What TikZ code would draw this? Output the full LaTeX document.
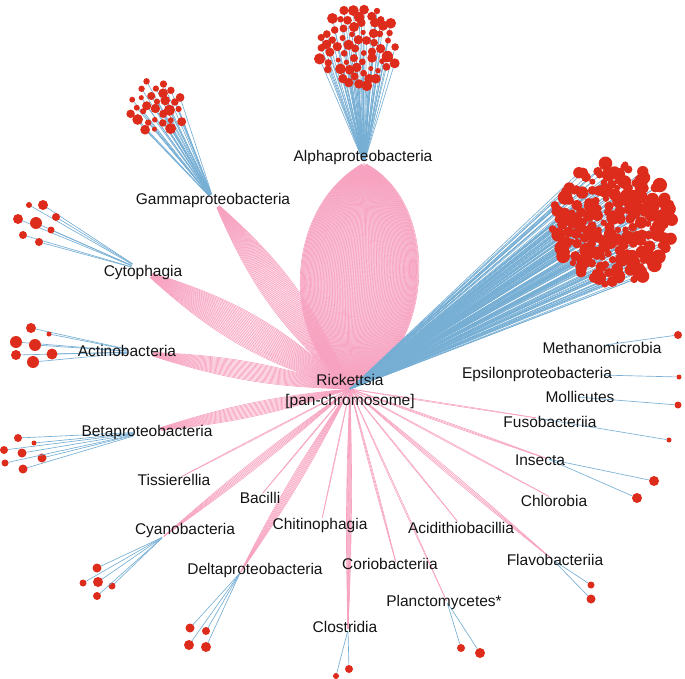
\documentclass[tikz,border=0pt]{standalone}
\usepackage{fontspec}
\setmainfont{Liberation Sans}
\definecolor{pinkc}{RGB}{247,162,192}
\definecolor{bluec}{RGB}{118,174,212}
\definecolor{dotred}{RGB}{222,44,28}

\begin{document}
\begin{tikzpicture}[x=1pt, y=-1pt,
    pinkedge/.style={draw=pinkc, line width=0.6pt},
    blueedge/.style={draw=bluec, line width=0.65pt},
    reddot/.style={circle, fill=dotred, inner sep=0pt, minimum size=#1},
    hub/.style={circle, inner sep=0pt, minimum size=#1},
    lab/.style={font=\fontsize{15.5}{20}\selectfont, inner sep=0pt, text=black!92}]

    \useasboundingbox (0,0) rectangle (685,679);

    % Centre and class hubs
    \coordinate (rick) at (350,389);
    \node[hub=6pt] (alpha) at (364,163) {};
    \node[hub=14pt] (gamma) at (214,201) {};
    \node[hub=22pt] (cyto) at (142,270) {};
    \node[hub=26pt] (actino) at (140,352) {};
    \node[hub=28pt] (beta) at (147,432) {};
    \node[hub=16pt] (tissi) at (175,480) {};
    \node[hub=2pt] (bacilli) at (262,494) {};
    \node[hub=2pt] (cyano) at (163,537) {};
    \node[hub=2pt] (chitino) at (322,519) {};
    \node[hub=2pt] (delta) at (240,573) {};
    \node[hub=2pt] (corio) at (396,563) {};
    \node[hub=2pt] (clost) at (348,630) {};
    \node[hub=2pt] (plancto) at (447,602) {};
    \node[hub=2pt] (acidi) at (458,522) {};
    \node[hub=2pt] (flavo) at (553,560) {};
    \node[hub=2pt] (chloro) at (550,497) {};
    \node[hub=2pt] (insecta) at (548,459) {};
    \node[hub=2pt] (fuso) at (537,418) {};
    \node[hub=2pt] (molli) at (577,397) {};
    \node[hub=2pt] (epsilon) at (600,375) {};
    \node[hub=2pt] (methano) at (605,345) {};

    % Pink bundles from the pan-chromosome
    \fill[pinkc!60] (rick) to[bend left=58] (alpha.center) to[bend left=66] (rick);
    \foreach \b in {-66,-64.5,...,58} \draw[pinkedge] (rick) to[bend left=\b] (alpha);
    \foreach \b in {-13,-12,...,13} \draw[pinkedge] (rick) to[bend left=\b] (gamma);
    \foreach \b in {-13,-12,...,13} \draw[pinkedge] (rick) to[bend left=\b] (cyto);
    \foreach \b in {-8,-7,...,8} \draw[pinkedge] (rick) to[bend left=\b] (actino);
    \foreach \b in {-6,-5,...,6} \draw[pinkedge] (rick) to[bend left=\b] (beta);
    \foreach \b in {-3,-2,...,3} \draw[pinkedge] (rick) to[bend left=\b] (cyano);
    \foreach \b in {-4,-3,...,4} \draw[pinkedge] (rick) to[bend left=\b] (delta);
    \foreach \b in {-2,-1.5,...,2} \draw[pinkedge] (rick) to[bend left=\b] (clost);
    \foreach \b in {-0.5,0.5} {
        \draw[pinkedge] (rick) to[bend left=\b] (tissi);
        \draw[pinkedge] (rick) to[bend left=\b] (bacilli);
        \draw[pinkedge] (rick) to[bend left=\b] (chitino);
        \draw[pinkedge] (rick) to[bend left=\b] (plancto);
        \draw[pinkedge] (rick) to[bend left=\b] (acidi);
        \draw[pinkedge] (rick) to[bend left=\b] (chloro);
        \draw[pinkedge] (rick) to[bend left=\b] (fuso);
    }
    \foreach \b in {-1,0,1} {
        \draw[pinkedge] (rick) to[bend left=\b] (corio);
        \draw[pinkedge] (rick) to[bend left=\b] (insecta);
    }
    \foreach \b in {-1.5,-0.5,...,1.5} \draw[pinkedge] (rick) to[bend left=\b] (flavo);

    % Big cluster linked straight to the pan-chromosome
    \pgfmathsetseed{11}
    \foreach \i in {1,...,170} {
        \pgfmathsetmacro\rr{62*sqrt((\i-0.5)/170)+2*rand}
        \pgfmathsetmacro\aa{mod(\i*0.381966,1)*360+6*rand}
        \coordinate (rk\i) at ({613+\rr*cos(\aa)},{224+\rr*sin(\aa)});
        \draw[blueedge] (rick) -- (rk\i);
    }
    % Alphaproteobacteria cluster
    \foreach \i in {1,...,66} {
        \pgfmathsetmacro\rr{41*sqrt((\i-0.5)/66)+1.5*rand}
        \pgfmathsetmacro\aa{mod(\i*0.381966,1)*360+6*rand}
        \coordinate (al\i) at ({358+\rr*cos(\aa)},{46+\rr*sin(\aa)});
        \draw[blueedge] (alpha) -- (al\i);
    }
    % Gammaproteobacteria cluster
    \foreach \i in {1,...,30} {
        \pgfmathsetmacro\rr{28*sqrt((\i-0.5)/30)+1.5*rand}
        \pgfmathsetmacro\aa{mod(\i*0.381966,1)*360+6*rand}
        \coordinate (ga\i) at ({157+\rr*cos(\aa)},{107+\rr*sin(\aa)});
        \draw[blueedge] (gamma) -- (ga\i);
    }

    % Small clusters
    \foreach [count=\k] \x/\y/\d in {29/205/6, 43/205/10, 18/219/10, 36/223/12, 56/217/8, 51/230/7, 23/235/8, 39/242/8} {
        \draw[blueedge] (cyto) -- (\x,\y);
        \node[reddot=\d pt] (cy\k) at (\x,\y) {};
    }
    \foreach [count=\k] \x/\y/\d in {31/328/10, 49/334/5, 16/342/12, 35/345/12, 16/355/10, 52/354/11, 33/362/12} {
        \draw[blueedge] (actino) -- (\x,\y);
        \node[reddot=\d pt] (ac\k) at (\x,\y) {};
    }
    \foreach [count=\k] \x/\y/\d in {18/438/8, 34/443/5, 4/450/8, 22/453/9, 42/458/9, 5/463/7, 23/469/9} {
        \draw[blueedge] (beta) -- (\x,\y);
        \node[reddot=\d pt] (be\k) at (\x,\y) {};
    }
    \foreach [count=\k] \x/\y/\d in {97/568/9, 83/583/7, 98/582/10, 112/586/7, 97/596/8} {
        \draw[blueedge] (cyano) -- (\x,\y);
        \node[reddot=\d pt] (cn\k) at (\x,\y) {};
    }
    \foreach [count=\k] \x/\y/\d in {190/628/9, 206/631/8, 189/645/10, 206/647/10} {
        \draw[blueedge] (delta) -- (\x,\y);
        \node[reddot=\d pt] (de\k) at (\x,\y) {};
    }
    \node[reddot=6pt] (cl1) at (336,676) {};
    \node[reddot=8pt] (cl2) at (349,669) {};
    \node[reddot=8pt] (pl1) at (461,648) {};
    \node[reddot=10pt] (pl2) at (480,653) {};
    \node[reddot=7pt] (fl1) at (591,585) {};
    \node[reddot=9pt] (fl2) at (591,599) {};
    \node[reddot=10pt] (in1) at (654,481) {};
    \node[reddot=10pt] (in2) at (637,498) {};
    \node[reddot=5pt] (fu1) at (669,440) {};
    \node[reddot=7pt] (mo1) at (678,405) {};
    \node[reddot=5pt] (ep1) at (679,377) {};
    \node[reddot=8pt] (me1) at (678,335) {};
    \draw[blueedge] (clost) -- (cl1);
    \draw[blueedge] (clost) -- (cl2);
    \draw[blueedge] (plancto) -- (pl1);
    \draw[blueedge] (plancto) -- (pl2);
    \draw[blueedge] (flavo) -- (fl1);
    \draw[blueedge] (flavo) -- (fl2);
    \draw[blueedge] (insecta) -- (in1);
    \draw[blueedge] (insecta) -- (in2);
    \draw[blueedge] (fuso) -- (fu1);
    \draw[blueedge] (molli) -- (mo1);
    \draw[blueedge] (epsilon) -- (ep1);
    \draw[blueedge] (methano) -- (me1);

    % Dots of the three big clusters, on top of their lines
    \pgfmathsetseed{5}
    \foreach \i in {1,...,170} {
        \pgfmathsetmacro\dd{6+9*rnd}
        \node[reddot=\dd pt] (rkdot\i) at (rk\i) {};
    }
    \foreach \i in {1,...,66} {
        \pgfmathsetmacro\dd{5+6.5*rnd}
        \node[reddot=\dd pt] (aldot\i) at (al\i) {};
    }
    \foreach \i in {1,...,30} {
        \pgfmathsetmacro\dd{5+6.5*rnd}
        \node[reddot=\dd pt] (gadot\i) at (ga\i) {};
    }

    % Labels
    \node[lab, align=center] (ricklab) at (350,391) {Rickettsia\\{[pan-chromosome]}};
    \node[lab] (alphalab) at (363,157) {Alphaproteobacteria};
    \node[lab] (gammalab) at (213,200) {Gammaproteobacteria};
    \node[lab] (cytolab) at (143,272) {Cytophagia};
    \node[lab] (actinolab) at (127,351) {Actinobacteria};
    \node[lab] (betalab) at (147,432) {Betaproteobacteria};
    \node[lab] (tissilab) at (174,480) {Tissierellia};
    \node[lab] (bacillilab) at (260,498) {Bacilli};
    \node[lab] (cyanolab) at (185,530) {Cyanobacteria};
    \node[lab] (chitinolab) at (320,525) {Chitinophagia};
    \node[lab] (deltalab) at (255,570) {Deltaproteobacteria};
    \node[lab] (coriolab) at (390,564) {Coriobacteriia};
    \node[lab] (clostlab) at (345,627) {Clostridia};
    \node[lab] (planctolab) at (444,602) {Planctomycetes*};
    \node[lab] (acidilab) at (461,528) {Acidithiobacillia};
    \node[lab] (flavolab) at (555,560) {Flavobacteriia};
    \node[lab] (chlorolab) at (554,501) {Chlorobia};
    \node[lab] (insectalab) at (540,460) {Insecta};
    \node[lab] (fusolab) at (550,422) {Fusobacteriia};
    \node[lab] (mollilab) at (580,397) {Mollicutes};
    \node[lab] (epsilonlab) at (537,374) {Epsilonproteobacteria};
    \node[lab] (methanolab) at (602,348) {Methanomicrobia};

\end{tikzpicture}
\end{document}
